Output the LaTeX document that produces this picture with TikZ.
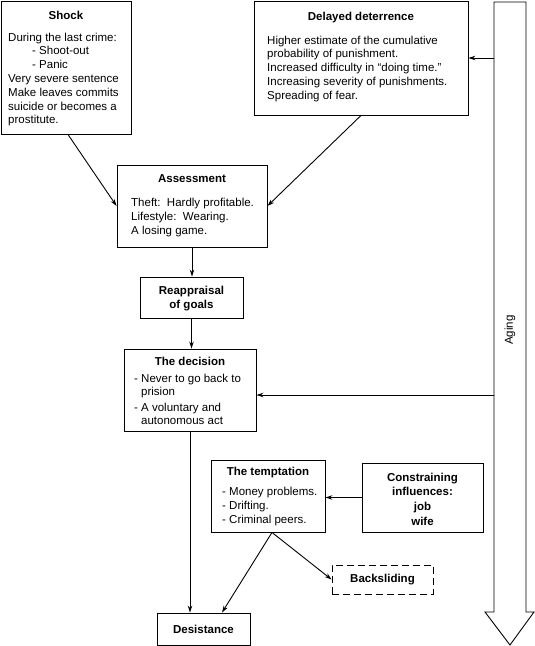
\documentclass[tikz,border=0pt]{standalone}
\usepackage{fontspec}
\setmainfont{Liberation Sans}
\usetikzlibrary{arrows.meta,calc}
\begin{document}
\begin{tikzpicture}[x=1pt,y=-1pt,
  box/.style={draw,line width=0.9pt,inner sep=0pt},
  ttl/.style={font=\fontsize{11.5}{13.8}\selectfont\bfseries,inner sep=0pt,align=center},
  body/.style={font=\fontsize{11.5}{13.8}\selectfont,inner sep=0pt,align=left,anchor=north west},
  arr/.style={line width=0.9pt,-{Stealth[length=7pt,width=4.5pt]}}]
\useasboundingbox (0,0) rectangle (535,646);

% Aging arrow
\draw[line width=0.9pt,fill=white] (494,2) -- (526,2) -- (526,612) -- (534,612) -- (510,645) -- (485,612) -- (494,612) -- cycle;
\node[font=\fontsize{11.5}{13.8}\selectfont,rotate=90,inner sep=0pt] (aging) at (510,330) {Aging};
\coordinate (agdel) at (494,58);
\coordinate (agdec) at (494,395);

% Shock
\node[box,minimum width=130pt,minimum height=133pt] (shock) at (66,67.5) {};
\node[ttl] (shockt) at (66,15) {Shock};
\node[body] (shockb) at (8,32.5) {During the last crime:\\
\hspace*{24pt}- Shoot-out\\
\hspace*{24pt}- Panic\\
Very severe sentence\\
Make leaves commits\\
suicide or becomes a\\
prostitute.};

% Delayed deterrence
\node[box,minimum width=214pt,minimum height=114pt] (delayed) at (361,58) {};
\node[ttl] (delayedt) at (361,18) {Delayed deterrence};
\node[body,font=\fontsize{11.5}{13.7}\selectfont] (delayedb) at (267,35.7) {Higher estimate of the cumulative\\
probability of punishment.\\
Increased difficulty in “doing time.”\\
Increasing severity of punishments.\\
Spreading of fear.};

% Assessment
\node[box,minimum width=150pt,minimum height=82pt] (assess) at (192,206) {};
\node[ttl] (assesst) at (192,179) {Assessment};
\node[body,font=\fontsize{11.5}{14}\selectfont] (assessb) at (131,197.7) {Theft:\ \ Hardly profitable.\\
Lifestyle:\ \ Wearing.\\
A losing game.};

% Reappraisal
\node[box,minimum width=103pt,minimum height=41pt] (reapp) at (191.5,297.5) {};
\node[ttl,font=\fontsize{11.5}{14}\selectfont\bfseries] (reappt) at (191.5,298.5) {Reappraisal\\of goals};

% Decision
\node[box,minimum width=132pt,minimum height=82pt] (decision) at (190,390) {};
\node[ttl] (decisiont) at (190,361) {The decision};
\node[body,font=\fontsize{11.5}{13}\selectfont] (decisionb) at (134,373.7) {- Never to go back to\\
\hspace*{7pt}prision\\[3pt]
- A voluntary and\\
\hspace*{7pt}autonomous act};

% Temptation
\node[box,minimum width=114pt,minimum height=72pt] (tempt) at (268,496) {};
\node[ttl] (temptt) at (268,473) {The temptation};
\node[body,font=\fontsize{11.5}{14}\selectfont] (temptb) at (222,486.7) {- Money problems.\\
- Drifting.\\
- Criminal peers.};

% Constraining influences
\node[box,minimum width=121pt,minimum height=69pt] (constr) at (422.5,497.5) {};
\node[ttl,font=\fontsize{11.5}{14.7}\selectfont\bfseries] (constrt) at (422.5,499) {Constraining\\influences:\\job\\wife};

% Backsliding
\node[box,dashed,dash pattern=on 7pt off 4pt,minimum width=101pt,minimum height=29pt,font=\fontsize{11.5}{13.8}\selectfont\bfseries] (back) at (382.5,579.5) {Backsliding};

% Desistance
\node[box,minimum width=93pt,minimum height=32pt,font=\fontsize{11.5}{13.8}\selectfont\bfseries] (desist) at (203.5,629) {Desistance};

% Connectors
\coordinate (shockout) at ($(shock.south west)!0.515!(shock.south east)$);
\draw[arr] (shockout) -- (assess.west);
\draw[arr] (delayed.south) -- (assess.east);
\draw[arr] (assess.south) -- (assess.south |- reapp.north);
\draw[arr] (reapp.south) -- (reapp.south |- decision.north);
\draw[arr] (agdel) -- (agdel -| delayed.east);
\draw[arr] (agdec) -- (agdec -| decision.east);
\draw[arr] (decision.south) -- (decision.south |- desist.north);
\draw[arr] (constr.west) -- (constr.west -| tempt.east);
\coordinate (temptout) at ($(tempt.south)+(4,0)$);
\coordinate (desin) at ($(desist.north)+(18.5,0)$);
\draw[arr] (temptout) -- (desin);
\draw[arr] (temptout) -- (back.west);
\end{tikzpicture}
\end{document}
